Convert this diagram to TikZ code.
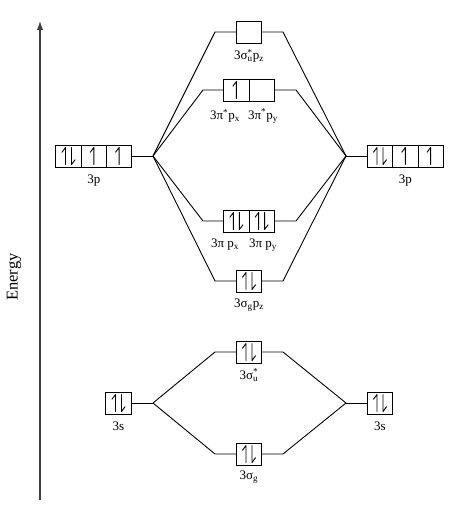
\documentclass[tikz,border=0pt]{standalone}
\usepackage{fontspec}
\setmainfont{Liberation Serif}
\usetikzlibrary{arrows.meta}
\begin{document}
\begin{tikzpicture}[x=1pt,y=-1pt,
  orb/.style={draw=black,line width=0.8pt,minimum width=25.3pt,minimum height=22pt,inner sep=0pt,outer sep=0pt},
  lvl/.style={draw=black,line width=0.9pt},
  lab/.style={font=\fontsize{13}{15}\selectfont,inner sep=0pt},
  harpup/.pic={\draw[line width=0.9pt,line cap=round,line join=round] (0,8.5) -- (0,-8.5) -- (-3.5,-3.8);},
  harpdn/.pic={\draw[line width=0.9pt,line cap=round,line join=round] (0,-8.5) -- (0,8.5) -- (3.5,3.8);}
]
\useasboundingbox (0,0) rectangle (450,516);
% energy axis
\coordinate (ax0) at (40,500);
\coordinate (ax1) at (40,21);
\draw[line width=1.3pt,draw=black!75,-{Latex[length=9pt,width=6.5pt]}] (ax0) -- (ax1);
\node[rotate=90,font=\fontsize{16.5}{18}\selectfont,inner sep=0pt] (energy) at (14,277) {Energy};

% atomic 3p left
\node[orb] (l1) at (68.5,156) {};
\node[orb] (l2) at (93.8,156) {};
\node[orb] (l3) at (119.1,156) {};
\pic at (65.5,156) {harpup}; \pic at (71.5,156) {harpdn};
\pic at (93.8,156) {harpup}; \pic at (119.1,156) {harpup};
\node[lab] (l3p) at (93.8,181) {3p};
% atomic 3p right
\node[orb] (r1) at (380,156) {};
\node[orb] (r2) at (405.3,156) {};
\node[orb] (r3) at (430.6,156) {};
\pic at (377,156) {harpup}; \pic at (383,156) {harpdn};
\pic at (405.3,156) {harpup}; \pic at (430.6,156) {harpup};
\node[lab] (r3p) at (405.3,181) {3p};

\coordinate (jl) at (153,156);
\coordinate (jr) at (346,156);
\draw[lvl] (l3.east) -- (jl);
\draw[lvl] (r1.west) -- (jr);

% sigma* pz
\node[orb] (su) at (249,32) {};
\coordinate (sul) at (215,32); \coordinate (sur) at (283,32);
\draw[lvl] (jl) -- (sul) -- (su.west);
\draw[lvl] (su.east) -- (sur) -- (jr);
\node[lab] (sulab) at (249,56) {3σ\rlap{\textsuperscript{*}}\textsubscript{u}p\textsubscript{z}};

% pi*
\node[orb] (psa) at (236.4,90) {};
\node[orb] (psb) at (261.6,90) {};
\pic at (236.4,90) {harpup};
\coordinate (psl) at (203,90); \coordinate (psr) at (296,90);
\draw[lvl] (jl) -- (psl) -- (psa.west);
\draw[lvl] (psb.east) -- (psr) -- (jr);
\node[lab] (psalab) at (225,116) {3π\textsuperscript{*}p\textsubscript{x}};
\node[lab] (psblab) at (263,116) {3π\textsuperscript{*}p\textsubscript{y}};

% pi
\node[orb] (pa) at (236.4,221) {};
\node[orb] (pb) at (261.6,221) {};
\pic at (233.4,221) {harpup}; \pic at (239.4,221) {harpdn};
\pic at (258.6,221) {harpup}; \pic at (264.6,221) {harpdn};
\coordinate (pl) at (203,221); \coordinate (pr) at (296,221);
\draw[lvl] (jl) -- (pl) -- (pa.west);
\draw[lvl] (pb.east) -- (pr) -- (jr);
\node[lab] (palab) at (225,245) {3π p\textsubscript{x}};
\node[lab] (pblab) at (263,245) {3π p\textsubscript{y}};

% sigma g pz
\node[orb] (sg) at (249,281) {};
\pic at (246,281) {harpup}; \pic at (252,281) {harpdn};
\coordinate (sgl) at (215,281); \coordinate (sgr) at (283,281);
\draw[lvl] (jl) -- (sgl) -- (sg.west);
\draw[lvl] (sg.east) -- (sgr) -- (jr);
\node[lab] (sglab) at (249,305) {3σ\textsubscript{g}p\textsubscript{z}};

% 3s atomic
\node[orb] (ls) at (118.5,403) {};
\pic at (115.5,403) {harpup}; \pic at (121.5,403) {harpdn};
\node[lab] (lslab) at (118.5,426) {3s};
\node[orb] (rs) at (380,403) {};
\pic at (377,403) {harpup}; \pic at (383,403) {harpdn};
\node[lab] (rslab) at (380,426) {3s};
\coordinate (jls) at (153,403);
\coordinate (jrs) at (346,403);
\draw[lvl] (ls.east) -- (jls);
\draw[lvl] (rs.west) -- (jrs);

% sigma* u (3s)
\node[orb] (ssu) at (249,352) {};
\pic at (246,352) {harpup}; \pic at (252,352) {harpdn};
\coordinate (ssul) at (215,352); \coordinate (ssur) at (283,352);
\draw[lvl] (jls) -- (ssul) -- (ssu.west);
\draw[lvl] (ssu.east) -- (ssur) -- (jrs);
\node[lab] (ssulab) at (249,375) {3σ\rlap{\textsuperscript{*}}\textsubscript{u}};

% sigma g (3s)
\node[orb] (ssg) at (249,454) {};
\pic at (246,454) {harpup}; \pic at (252,454) {harpdn};
\coordinate (ssgl) at (215,454); \coordinate (ssgr) at (283,454);
\draw[lvl] (jls) -- (ssgl) -- (ssg.west);
\draw[lvl] (ssg.east) -- (ssgr) -- (jrs);
\node[lab] (ssglab) at (249,477) {3σ\textsubscript{g}};
\end{tikzpicture}
\end{document}
